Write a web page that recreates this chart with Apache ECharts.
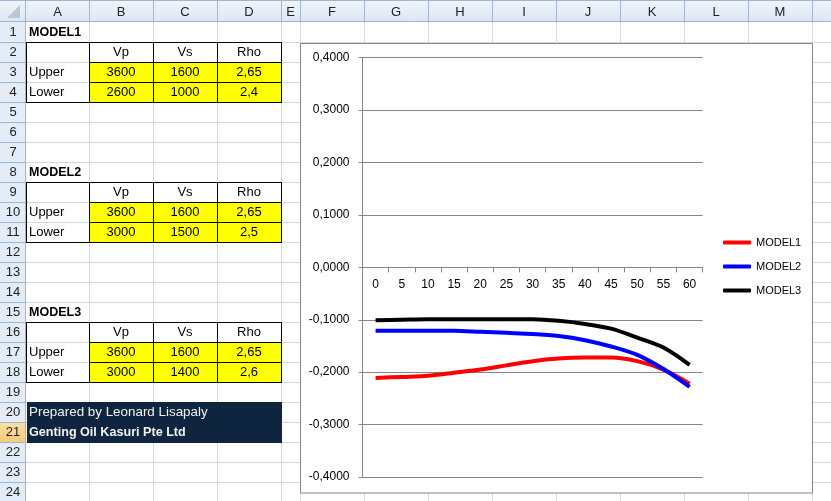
<!DOCTYPE html>
<html>
<head>
<meta charset="utf-8">
<script src="https://cdn.jsdelivr.net/npm/echarts@6/dist/echarts.min.js"></script>
<style>html,body{margin:0;padding:0;background:#fff}#c{width:831px;height:501px}</style>
</head>
<body>
<div id="c"></div>
<script>
// ---- chart data ----
const categories = ['0','5','10','15','20','25','30','35','40','45','50','55','60'];
const model1 = [-0.211,-0.209,-0.207,-0.201,-0.195,-0.187,-0.179,-0.174,-0.172,-0.172,-0.179,-0.195,-0.222];
const model2 = [-0.121,-0.121,-0.121,-0.121,-0.123,-0.125,-0.127,-0.131,-0.139,-0.151,-0.167,-0.194,-0.228];
const model3 = [-0.101,-0.100,-0.099,-0.099,-0.099,-0.099,-0.099,-0.102,-0.108,-0.117,-0.134,-0.153,-0.186];
const seriesNames = ['MODEL1','MODEL2','MODEL3'];

// ---- sheet content ----
const colLetters = ['A','B','C','D','E','F','G','H','I','J','K','L','M','N'];
const rowCount = 24;
const tableNames = ['MODEL1','MODEL2','MODEL3'];
const tableStartRows = [1,8,15];
const colHeads = ['Vp','Vs','Rho'];
const rowLabels = ['Upper','Lower'];
const upperVals = [['3600','1600','2,65'],['3600','1600','2,65'],['3600','1600','2,65']];
const lowerVals = [['2600','1000','2,4'],['3000','1500','2,5'],['3000','1400','2,6']];
const footerLines = ['Prepared by Leonard Lisapaly','Genting Oil Kasuri Pte Ltd'];

// ---- layout ----
const colEdges = [0,26,89,153,217,281,300,364,428,492,556,620,684,748,812,876];
const headerH = 22, rowH = 20;
const rowTop = r => headerH + rowH*(r-1);
const FONT = 'Liberation Sans';
const G = [];
G.push({type:'rect',z:-20,shape:{x:0,y:0,width:831,height:headerH},style:{fill:new echarts.graphic.LinearGradient(0,0,0,1,[{offset:0,color:'#f1f5fb'},{offset:1,color:'#dce6f2'}])}});
G.push({type:'rect',z:-20,shape:{x:0,y:headerH,width:26,height:501},style:{fill:'#e4ecf7'}});
G.push({type:'rect',z:-19,shape:{x:0,y:rowTop(21),width:26,height:rowH},style:{fill:new echarts.graphic.LinearGradient(0,0,0,1,[{offset:0,color:'#fbe0a6'},{offset:1,color:'#f7c97a'}])}});
for (let i=2;i<colEdges.length;i++){
  const x=colEdges[i]+0.5;
  G.push({type:'line',z:-18,shape:{x1:x,y1:headerH,x2:x,y2:501},style:{stroke:'#d0d7e5',lineWidth:1}});
  G.push({type:'line',z:-17,shape:{x1:x,y1:0,x2:x,y2:headerH},style:{stroke:'#9eb6ce',lineWidth:1}});
}
for (let r=1;r<=rowCount;r++){
  const y=rowTop(r)+rowH+0.5;
  G.push({type:'line',z:-18,shape:{x1:26,y1:y,x2:831,y2:y},style:{stroke:'#d0d7e5',lineWidth:1}});
  G.push({type:'line',z:-17,shape:{x1:0,y1:y,x2:26,y2:y},style:{stroke:'#9eb6ce',lineWidth:1}});
  G.push({type:'text',z:-16,style:{text:String(r),x:13,y:rowTop(r)+10.5,align:'center',verticalAlign:'middle',font:'13px '+FONT,fill:'#222'}});
}
G.push({type:'line',z:-17,shape:{x1:0,y1:headerH-0.5,x2:831,y2:headerH-0.5},style:{stroke:'#9eb6ce',lineWidth:1}});
G.push({type:'line',z:-17,shape:{x1:25.5,y1:0,x2:25.5,y2:501},style:{stroke:'#9eb6ce',lineWidth:1}});
G.push({type:'line',z:-17,shape:{x1:0,y1:0.5,x2:831,y2:0.5},style:{stroke:'#9eb6ce',lineWidth:1}});
G.push({type:'polygon',z:-16,shape:{points:[[20,5],[20,18],[7,18]]},style:{fill:'#b7c6d9'}});
colLetters.forEach((L,i)=>{
  const cx=(colEdges[i+1]+colEdges[i+2])/2;
  G.push({type:'text',z:-16,style:{text:L,x:cx,y:12,align:'center',verticalAlign:'middle',font:'13px '+FONT,fill:'#222'}});
});
tableNames.forEach((name,t)=>{
  const s=tableStartRows[t];
  G.push({type:'text',z:-15,style:{text:name,x:colEdges[1]+3,y:rowTop(s)+10.5,verticalAlign:'middle',font:'bold 12.5px '+FONT,fill:'#000'}});
  G.push({type:'rect',z:-16,shape:{x:colEdges[2],y:rowTop(s+2),width:colEdges[5]-colEdges[2],height:rowH*2},style:{fill:'#ffff00'}});
  colHeads.forEach((h,c)=>{
    const cx=(colEdges[c+2]+colEdges[c+3])/2;
    G.push({type:'text',z:-15,style:{text:h,x:cx,y:rowTop(s+1)+10.5,align:'center',verticalAlign:'middle',font:'13px '+FONT,fill:'#000'}});
    G.push({type:'text',z:-15,style:{text:upperVals[t][c],x:cx,y:rowTop(s+2)+10.5,align:'center',verticalAlign:'middle',font:'13px '+FONT,fill:'#000'}});
    G.push({type:'text',z:-15,style:{text:lowerVals[t][c],x:cx,y:rowTop(s+3)+10.5,align:'center',verticalAlign:'middle',font:'13px '+FONT,fill:'#000'}});
  });
  rowLabels.forEach((lab,k)=>{
    G.push({type:'text',z:-15,style:{text:lab,x:colEdges[1]+3,y:rowTop(s+2+k)+10.5,verticalAlign:'middle',font:'13px '+FONT,fill:'#000'}});
  });
  const yT=rowTop(s+1)+0.5, yB=rowTop(s+4)+0.5;
  [yT, rowTop(s+2)+0.5, rowTop(s+3)+0.5, yB].forEach((y,k)=>{
    const x1=(k===0||k===3)?colEdges[1]:colEdges[2];
    G.push({type:'line',z:-14,shape:{x1:x1,y1:y,x2:colEdges[5]+1,y2:y},style:{stroke:'#000',lineWidth:1}});
  });
  [1,2,3,4,5].forEach(ci=>{
    const x=colEdges[ci]+0.5;
    G.push({type:'line',z:-14,shape:{x1:x,y1:yT,x2:x,y2:yB},style:{stroke:'#000',lineWidth:1}});
  });
});
G.push({type:'rect',z:-14,shape:{x:colEdges[1]+1,y:rowTop(20),width:colEdges[5]-colEdges[1],height:rowH*2+1},style:{fill:'#0f243e'}});
footerLines.forEach((txt,k)=>{
  G.push({type:'text',z:-13,style:{text:txt,x:colEdges[1]+3,y:rowTop(20+k)+10.5,verticalAlign:'middle',font:(k===1?'bold 12.6px ':'13.4px ')+FONT,fill:'#f2f2f2'}});
});
G.push({type:'rect',z:-10,shape:{x:300.5,y:43.5,width:512,height:449.5},style:{fill:'#fff',stroke:'#868686',lineWidth:1}});

const fmt = v => { if (Math.abs(v)<1e-9) v=0; return v.toFixed(4).replace('.',','); };
const colors = ['#ff0000','#0000ff','#000000'];
const datas = [model1, model2, model3];
const gridH = 419.3;

const chart = echarts.init(document.getElementById('c'));
chart.setOption({
  animation:false,
  backgroundColor:'#fff',
  graphic:{elements:G},
  grid:{left:362.5,top:57.7,width:340.2,height:gridH,containLabel:false},
  xAxis:{type:'category',data:categories,boundaryGap:true,position:'bottom',offset:-gridH/2,
    axisLine:{onZero:false,lineStyle:{color:'#868686',width:1}},
    axisTick:{show:true,interval:0,length:5,lineStyle:{color:'#868686'}},
    axisLabel:{interval:0,color:'#000',fontSize:12,fontFamily:FONT,margin:11},
    splitLine:{show:false}},
  yAxis:{type:'value',min:-0.4,max:0.4,interval:0.1,
    axisLine:{show:true,lineStyle:{color:'#868686',width:1}},
    axisTick:{show:true,length:4,lineStyle:{color:'#868686'}},
    axisLabel:{formatter:fmt,color:'#000',fontSize:12,fontFamily:FONT,margin:13},
    splitLine:{show:true,lineStyle:{color:'#868686',width:1}}},
  legend:{data:seriesNames,orient:'vertical',left:718,top:232,itemWidth:28,itemHeight:4,itemGap:13,icon:'roundRect',
    textStyle:{fontSize:11,fontFamily:FONT,color:'#000'}},
  series:seriesNames.map((n,i)=>({name:n,type:'line',data:datas[i],smooth:0.3,symbol:'none',
    lineStyle:{width:4,color:colors[i]},itemStyle:{color:colors[i]}}))
});
</script>
</body>
</html>
